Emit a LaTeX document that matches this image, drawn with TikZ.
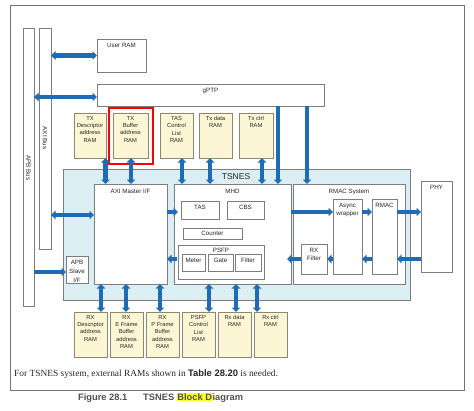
\documentclass[tikz,border=0pt]{standalone}
\usepackage{fontspec}
\setmainfont{Liberation Serif}
\setsansfont{Liberation Sans}
\usetikzlibrary{arrows.meta,calc}
\definecolor{arrblue}{RGB}{31,108,181}
\definecolor{ramfill}{RGB}{253,246,212}
\definecolor{ramline}{RGB}{140,135,112}
\definecolor{tsnesfill}{RGB}{219,238,243}
\definecolor{boxline}{RGB}{125,125,125}
\definecolor{framegray}{RGB}{115,115,115}
\definecolor{hlyellow}{RGB}{255,255,40}
\definecolor{capgray}{RGB}{80,80,80}
\newcommand\mkbox[6]{\node[#6,anchor=north west,minimum width={(#4-#2)*1pt},minimum height={(#5-#3)*1pt}] (#1) at (#2,#3) {};}
\tikzset{
  bx/.style={draw=boxline,fill=white,line width=0.8pt,inner sep=0pt,outer sep=0pt},
  ram/.style={draw=ramline,fill=ramfill,line width=0.8pt,inner sep=0pt,outer sep=0pt},
  lbl/.style={font=\sffamily\fontsize{6.2}{7.6}\selectfont,inner sep=0pt,align=center,text=black!85},
  rlbl/.style={font=\sffamily\fontsize{5.8}{7.4}\selectfont,inner sep=0pt,align=center,text=black!85},
  dbl/.style={arrblue,line width=4.5pt,{Triangle[width=8.5pt,length=4.5pt]}-{Triangle[width=8.5pt,length=4.5pt]}},
  sgl/.style={arrblue,line width=4.5pt,-{Triangle[width=8.5pt,length=4.5pt]}},
}
\begin{document}
\begin{tikzpicture}[x=1pt,y=-1pt]
\useasboundingbox (0,0) rectangle (474,410);
% frame and buses
\mkbox{frame}{10}{5}{464}{390}{draw=framegray,line width=1pt,inner sep=0pt,outer sep=0pt}
\mkbox{apbbus}{23}{28}{34}{306}{bx}
\mkbox{axibus}{39}{28}{51}{249}{bx}
\node[lbl,rotate=-90] (apbbus-t) at (28.5,168) {APB Bus};
\node[lbl,rotate=-90] (axibus-t) at (45,138) {AXI Bus};
% top blocks
\mkbox{userram}{97}{39}{146}{72}{bx}
\node[lbl,anchor=north] (userram-t) at ($(userram.north)+(0,4)$) {User RAM};
\mkbox{gptp}{97}{84}{324}{106}{bx}
\node[lbl,anchor=north] (gptp-t) at ($(gptp.north)+(0,4)$) {gPTP};
% TX RAMs
\mkbox{txdesc}{74}{113}{106}{158}{ram}
\mkbox{txbuf}{113}{113}{148}{158}{ram}
\mkbox{tascl}{160}{113}{193}{158}{ram}
\mkbox{txdata}{199}{113}{232}{158}{ram}
\mkbox{txctrl}{239}{113}{273}{158}{ram}
\node[rlbl,anchor=north] (txdesc-t) at ($(txdesc.north)+(0,3)$) {TX\\Descriptor\\address\\RAM};
\node[rlbl,anchor=north] (txbuf-t) at ($(txbuf.north)+(0,3)$) {TX\\Buffer\\address\\RAM};
\node[rlbl,anchor=north] (tascl-t) at ($(tascl.north)+(0,3)$) {TAS\\Control\\List\\RAM};
\node[rlbl,anchor=north] (txdata-t) at ($(txdata.north)+(0,3)$) {Tx data\\RAM};
\node[rlbl,anchor=north] (txctrl-t) at ($(txctrl.north)+(0,3)$) {Tx ctrl\\RAM};
\mkbox{redbox}{109}{108}{153}{164}{draw=red,line width=1.4pt,inner sep=0pt,outer sep=0pt}
% TSNES
\mkbox{tsnes}{63}{169}{410}{300}{draw=boxline,fill=tsnesfill,line width=0.8pt,inner sep=0pt,outer sep=0pt}
\node[font=\sffamily\fontsize{8.5}{10}\selectfont,inner sep=0pt,text=black!85] (tsnes-t) at (236,177) {TSNES};
\mkbox{axim}{94}{184}{167}{284}{bx}
\node[lbl,anchor=north] (axim-t) at ($(axim.north)+(0,5)$) {AXI Master I/F};
\mkbox{mhd}{174}{184}{291}{284}{bx}
\node[lbl,anchor=north] (mhd-t) at ($(mhd.north)+(0,5)$) {MHD};
\mkbox{tas}{181}{201}{219}{219}{bx}
\node[lbl,anchor=north] (tas-t) at ($(tas.north)+(0,4)$) {TAS};
\mkbox{cbs}{227}{201}{264}{219}{bx}
\node[lbl,anchor=north] (cbs-t) at ($(cbs.north)+(0,4)$) {CBS};
\mkbox{counter}{183}{228}{242}{239}{bx}
\node[lbl] (counter-t) at (counter.center) {Counter};
\mkbox{psfp}{178}{245}{264}{279}{bx}
\node[lbl,anchor=north] (psfp-t) at ($(psfp.north)+(0,3)$) {PSFP};
\mkbox{meter}{182}{254}{205}{271}{bx}
\node[lbl,anchor=north] (meter-t) at ($(meter.north)+(0,4)$) {Meter};
\mkbox{gate}{208}{254}{233}{271}{bx}
\node[lbl,anchor=north] (gate-t) at ($(gate.north)+(0,4)$) {Gate};
\mkbox{filter}{235}{254}{261}{271}{bx}
\node[lbl,anchor=north] (filter-t) at ($(filter.north)+(0,4)$) {Filter};
\mkbox{rmacsys}{293}{184}{405}{284}{bx}
\node[lbl,anchor=north] (rmacsys-t) at ($(rmacsys.north)+(0,5)$) {RMAC System};
\mkbox{async}{333}{199}{362}{274}{bx}
\node[lbl,anchor=north] (async-t) at ($(async.north)+(0,4)$) {Async\\wrapper};
\mkbox{rmac}{372}{199}{397}{274}{bx}
\node[lbl,anchor=north] (rmac-t) at ($(rmac.north)+(0,4)$) {RMAC};
\mkbox{rxfilter}{301}{244}{327}{274}{bx}
\node[lbl,anchor=north] (rxfilter-t) at ($(rxfilter.north)+(0,4)$) {RX\\Filter};
\mkbox{apbs}{66}{256}{88}{283}{bx}
\node[lbl,font=\sffamily\fontsize{6.2}{9}\selectfont] (apbs-t) at ($(apbs.center)+(0,1.5)$) {APB\\Slave\\I/F};
\mkbox{phy}{421}{181}{452}{272}{bx}
\node[lbl,anchor=north] (phy-t) at ($(phy.north)+(0,4)$) {PHY};
% RX RAMs
\mkbox{rxdesc}{74}{312}{107}{357}{ram}
\mkbox{rxe}{110}{312}{143}{357}{ram}
\mkbox{rxp}{146}{312}{179}{357}{ram}
\mkbox{psfpcl}{182}{312}{215}{357}{ram}
\mkbox{rxdata}{218}{312}{251}{357}{ram}
\mkbox{rxctrl}{254}{312}{287}{357}{ram}
\node[rlbl,anchor=north] (rxdesc-t) at ($(rxdesc.north)+(0,3)$) {RX\\Descriptor\\address\\RAM};
\node[rlbl,anchor=north] (rxe-t) at ($(rxe.north)+(0,3)$) {RX\\E Frame\\Buffer\\address\\RAM};
\node[rlbl,anchor=north] (rxp-t) at ($(rxp.north)+(0,3)$) {RX\\P Frame\\Buffer\\address\\RAM};
\node[rlbl,anchor=north] (psfpcl-t) at ($(psfpcl.north)+(0,3)$) {PSFP\\Control\\List\\RAM};
\node[rlbl,anchor=north] (rxdata-t) at ($(rxdata.north)+(0,3)$) {Rx data\\RAM};
\node[rlbl,anchor=north] (rxctrl-t) at ($(rxctrl.north)+(0,3)$) {Rx ctrl\\RAM};
% bus arrows
\draw[dbl] (axibus.east |- userram.west) -- (userram.west);
\draw[dbl] (apbbus.east |- 0,97) -- (gptp.west |- 0,97);
\draw[dbl] (axibus.east |- 0,215) -- (axim.west |- 0,215);
\draw[sgl] (apbbus.east |- 0,272) -- (apbs.west |- 0,272);
% vertical arrows top
\draw[dbl] ([xshift=-0.5pt]txdesc.south east) -- ([xshift=-0.5pt]txdesc.south east |- axim.north);
\draw[dbl] ([xshift=0.5pt]txbuf.south) -- ([xshift=0.5pt]txbuf.south |- axim.north);
\draw[dbl] ([xshift=5.5pt]tascl.south) -- ([xshift=5.5pt]tascl.south |- mhd.north);
\draw[dbl] ([xshift=-5.5pt]txdata.south) -- ([xshift=-5.5pt]txdata.south |- mhd.north);
\draw[dbl] ([xshift=6pt]txctrl.south) -- ([xshift=6pt]txctrl.south |- mhd.north);
\draw[sgl] (gptp.south -| 278,0) -- (mhd.north -| 278,0);
\draw[sgl] (gptp.south -| 307,0) -- (rmacsys.north -| 307,0);
% horizontal arrows
\draw[sgl] (axim.east |- 0,212) -- ([xshift=4pt]mhd.west |- 0,212);
\draw[sgl] (mhd.east |- 0,212) -- (async.west |- 0,212);
\draw[sgl] (async.east |- 0,212) -- (rmac.west |- 0,212);
\draw[sgl] (rmac.east |- 0,212) -- (phy.west |- 0,212);
\draw[sgl] (phy.west |- 0,259) -- (rmac.east |- 0,259);
\draw[sgl] (rmac.west |- 0,259) -- (async.east |- 0,259);
\draw[sgl] (async.west |- 0,259) -- (rxfilter.east |- 0,259);
\draw[sgl] (rxfilter.west |- 0,259) -- ([xshift=-4pt]mhd.east |- 0,259);
\draw[sgl] ([xshift=3pt]mhd.west |- 0,259) -- (axim.east |- 0,259);
% vertical arrows bottom
\draw[dbl] (axim.south -| 101,0) -- (rxdesc.north -| 101,0);
\draw[dbl] (axim.south -| 126,0) -- (rxe.north -| 126,0);
\draw[dbl] (axim.south -| 160,0) -- (rxp.north -| 160,0);
\draw[dbl] (mhd.south -| 209,0) -- (psfpcl.north -| 209,0);
\draw[dbl] (mhd.south -| 236,0) -- (rxdata.north -| 236,0);
\draw[dbl] (mhd.south -| 257,0) -- (rxctrl.north -| 257,0);
% note and caption
\node[anchor=west,inner sep=0pt,font=\fontsize{9.4}{11}\selectfont,text=black!85] (note) at (14,374) {For TSNES system, external RAMs shown in {\sffamily\bfseries Table 28.20} is needed.};
\node[anchor=west,inner sep=0pt,font=\sffamily\bfseries\fontsize{9.3}{11}\selectfont,text=capgray] (figno) at (78,398) {Figure 28.1};
\node[anchor=west,inner sep=0pt,font=\sffamily\bfseries\fontsize{9.3}{11}\selectfont,text=capgray] (figtitle) at (143,398) {TSNES {\setlength\fboxsep{0.6pt}\colorbox{hlyellow}{Block D}}iagram};
\end{tikzpicture}
\end{document}
